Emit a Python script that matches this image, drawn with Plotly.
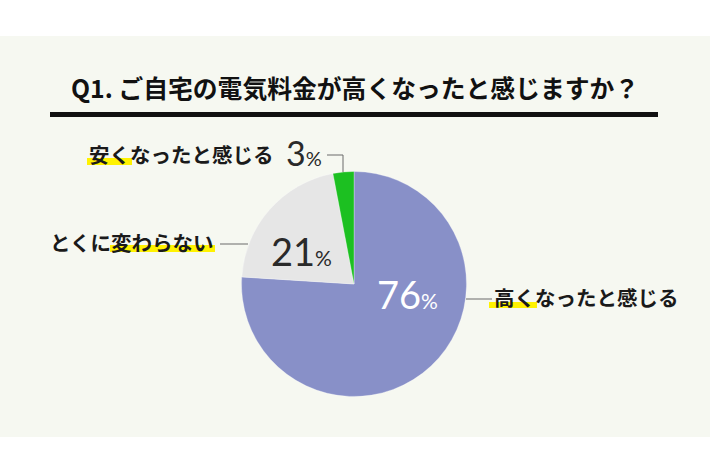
import plotly.graph_objects as go

# ---- data ----
labels = ["高くなったと感じる", "とくに変わらない", "安くなったと感じる"]
values = [76, 21, 3]
colors = ["#8890C8", "#E6E6E6", "#1CC021"]
title_text = "Q1. ご自宅の電気料金が高くなったと感じますか？"

W, H = 710, 474


def px(x):
    return x / W


def py(y):
    return 1 - y / H


JP = "Noto Sans CJK JP"
NUM = "Lato"
DARK = "#1a1a1a"

# pie geometry (pixels)
cx, cy, r = 354, 284, 112.5

fig = go.Figure()
fig.add_trace(go.Pie(
    labels=labels, values=values, sort=False, direction="clockwise", rotation=0,
    marker=dict(colors=colors, line=dict(color="rgba(255,255,255,0.6)", width=0.5)),
    textinfo="none", hoverinfo="label+percent", showlegend=False,
    domain=dict(x=[px(cx - r), px(cx + r)], y=[py(cy + r), py(cy - r)]),
))

shapes = [
    # background panel
    dict(type="rect", xref="paper", yref="paper", x0=0, x1=1, y0=py(437), y1=py(36),
         fillcolor="#F6F8F1", line=dict(width=0), layer="below"),
    # title underline
    dict(type="line", xref="paper", yref="paper", x0=px(50), x1=px(658), y0=py(114.5), y1=py(114.5),
         line=dict(color="#111111", width=5)),
]

# highlighter marks
for (x0, x1, y0, y1) in [(87, 132, 158, 165), (110, 215, 245, 252), (489, 537, 302, 308)]:
    shapes.append(dict(type="rect", xref="paper", yref="paper", x0=px(x0), x1=px(x1),
                       y0=py(y1), y1=py(y0), fillcolor="#FFF200", line=dict(width=0), layer="below"))

# leader lines
lc = dict(color="#6a6a6a", width=1)
for (x0, y0, x1, y1) in [(327, 155, 343, 155), (343, 155, 343, 172), (220, 244, 248, 244), (466, 299, 492, 299)]:
    shapes.append(dict(type="line", xref="paper", yref="paper", x0=px(x0), x1=px(x1),
                       y0=py(y0), y1=py(y1), line=lc))


def pct(v, pct_size):
    return f"{v}<span style='font-size:{pct_size}px'>%</span>"


annotations = [
    dict(text=title_text, x=px(355), y=py(87), xref="paper", yref="paper", showarrow=False,
         xanchor="center", yanchor="middle",
         font=dict(family=JP, size=24.8, color="#111111", weight="bold")),
    # category labels
    dict(text=labels[0], x=px(492), y=py(297), xref="paper", yref="paper", showarrow=False,
         xanchor="left", yanchor="middle", font=dict(family=JP, size=20.5, color=DARK, weight="bold")),
    dict(text=labels[1], x=px(215), y=py(242), xref="paper", yref="paper", showarrow=False,
         xanchor="right", yanchor="middle", font=dict(family=JP, size=20.5, color=DARK, weight="bold")),
    dict(text=labels[2], x=px(276), y=py(154), xref="paper", yref="paper", showarrow=False,
         xanchor="right", yanchor="middle", font=dict(family=JP, size=20.5, color=DARK, weight="bold")),
    # percentages
    dict(text=pct(values[0], 21), x=px(375), y=py(294), xref="paper", yref="paper", showarrow=False,
         xanchor="left", yanchor="middle", font=dict(family=NUM, size=38, color="#FFFFFF")),
    dict(text=pct(values[1], 21), x=px(269), y=py(251), xref="paper", yref="paper", showarrow=False,
         xanchor="left", yanchor="middle", font=dict(family=NUM, size=38, color="#2a2a2a")),
    dict(text=pct(values[2], 20), x=px(284), y=py(153), xref="paper", yref="paper", showarrow=False,
         xanchor="left", yanchor="middle", font=dict(family=NUM, size=34, color="#2a2a2a")),
]

fig.update_layout(
    width=W, height=H, margin=dict(l=0, r=0, t=0, b=0),
    paper_bgcolor="#FFFFFF", plot_bgcolor="#FFFFFF",
    shapes=shapes, annotations=annotations,
)

fig.write_html("out.html", config={"displayModeBar": False},
               post_script="document.body.style.margin='0';")
